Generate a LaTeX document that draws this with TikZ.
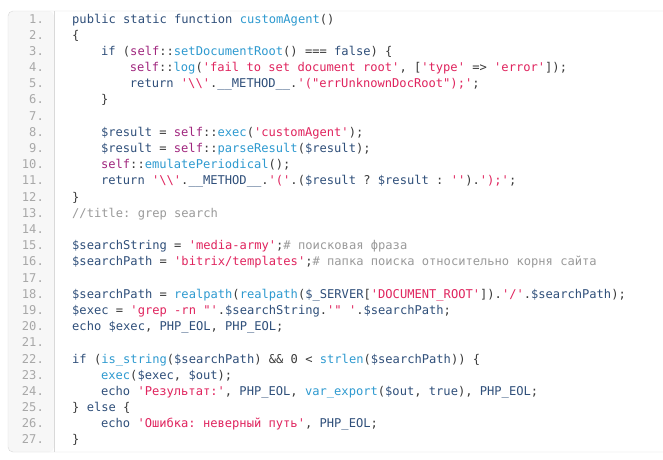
\documentclass[tikz,border=0pt]{standalone}
\usepackage{fontspec}
\newfontfamily\code{DejaVu Sans Mono}[Ligatures=NoCommon]
\frenchspacing
\definecolor{kw}{HTML}{2F4F7A}
\definecolor{fn}{HTML}{2E9AD0}
\definecolor{st}{HTML}{E0245E}
\definecolor{sf}{HTML}{A0267E}
\definecolor{cm}{HTML}{9A9A9A}
\definecolor{pl}{HTML}{3A3A3A}
\definecolor{ln}{HTML}{A8A8A8}
\newcommand\K[1]{\textcolor{kw}{#1}}
\newcommand\F[1]{\textcolor{fn}{#1}}
\newcommand\Sx[1]{\textcolor{st}{#1}}
\newcommand\Sf[1]{\textcolor{sf}{#1}}
\newcommand\Cm[1]{\textcolor{cm}{#1}}
\newcommand\q{\char"0027{}}
\newcommand\dq{\char"0022{}}
\newcommand\bs{\char"005C{}}
\newcommand\us{\char"005F{}}
\newcommand\ds{\char"0024{}}
\begin{document}
\begin{tikzpicture}[x=1pt,y=-1pt,
  codeline/.style={anchor=base west,inner sep=0pt,font=\code\frenchspacing\fontsize{12.1}{14}\selectfont,text=pl},
  numline/.style={anchor=base east,inner sep=0pt,font=\code\fontsize{12.1}{14}\selectfont,text=ln}]
\useasboundingbox (0,0) rectangle (663,459);
\fill[white] (0,0) rectangle (663,459);
\fill[black!3,rounded corners=5pt] (8,11) rectangle (54,452);
\draw[black!15,rounded corners=5pt] (8,11) rectangle (700,452);
\draw[black!15] (54,11) -- (54,452);
\foreach \n in {1,...,27}{\node[numline] (n\n) at (44,{23+(\n-1)*16.19}) {\n.};}
\def\L#1#2#3{\node[codeline] (c#1) at ({72+#2*7.22},{23+(#1-1)*16.19}) {#3};}
\L{1}{0}{\K{public static function} \F{customAgent}()}
\L{2}{0}{\{}
\L{3}{4}{\K{if} (\Sf{self}::\F{setDocumentRoot}() === \K{false}) \{}
\L{4}{8}{\Sf{self}::\F{log}(\Sx{\q fail to set document root\q}, [\Sx{\q type\q} => \Sx{\q error\q}]);}
\L{5}{8}{\K{return} \Sx{\q\bs\bs\q}.\K{\us\us METHOD\us\us}.\Sx{\q(\dq errUnknownDocRoot\dq);\q};}
\L{6}{4}{\}}
\L{8}{4}{\K{\ds result} = \Sf{self}::\F{exec}(\Sx{\q customAgent\q});}
\L{9}{4}{\K{\ds result} = \Sf{self}::\F{parseResult}(\K{\ds result});}
\L{10}{4}{\Sf{self}::\F{emulatePeriodical}();}
\L{11}{4}{\K{return} \Sx{\q\bs\bs\q}.\K{\us\us METHOD\us\us}.\Sx{\q(\q}.(\K{\ds result} ? \K{\ds result} : \Sx{\q\q}).\Sx{\q);\q};}
\L{12}{0}{\}}
\L{13}{0}{\Cm{//title: grep search}}
\L{15}{0}{\K{\ds searchString} = \Sx{\q media-army\q};\Cm{\# поисковая фраза}}
\L{16}{0}{\K{\ds searchPath} = \Sx{\q bitrix/templates\q};\Cm{\# папка поиска относительно корня сайта}}
\L{18}{0}{\K{\ds searchPath} = \F{realpath}(\F{realpath}(\K{\ds\us SERVER}[\Sx{\q DOCUMENT\us ROOT\q}]).\Sx{\q/\q}.\K{\ds searchPath});}
\L{19}{0}{\K{\ds exec} = \Sx{\q grep -rn \dq\q}.\K{\ds searchString}.\Sx{\q\dq\ \q}.\K{\ds searchPath};}
\L{20}{0}{\K{echo} \K{\ds exec}, \K{PHP\us EOL}, \K{PHP\us EOL};}
\L{22}{0}{\K{if} (\F{is\us string}(\K{\ds searchPath}) \&\& 0 < \F{strlen}(\K{\ds searchPath})) \{}
\L{23}{4}{\F{exec}(\K{\ds exec}, \K{\ds out});}
\L{24}{4}{\K{echo} \Sx{\q Результат:\q}, \K{PHP\us EOL}, \F{var\us export}(\K{\ds out}, \K{true}), \K{PHP\us EOL};}
\L{25}{0}{\} \K{else} \{}
\L{26}{4}{\K{echo} \Sx{\q Ошибка: неверный путь\q}, \K{PHP\us EOL};}
\L{27}{0}{\}}
\end{tikzpicture}
\end{document}
